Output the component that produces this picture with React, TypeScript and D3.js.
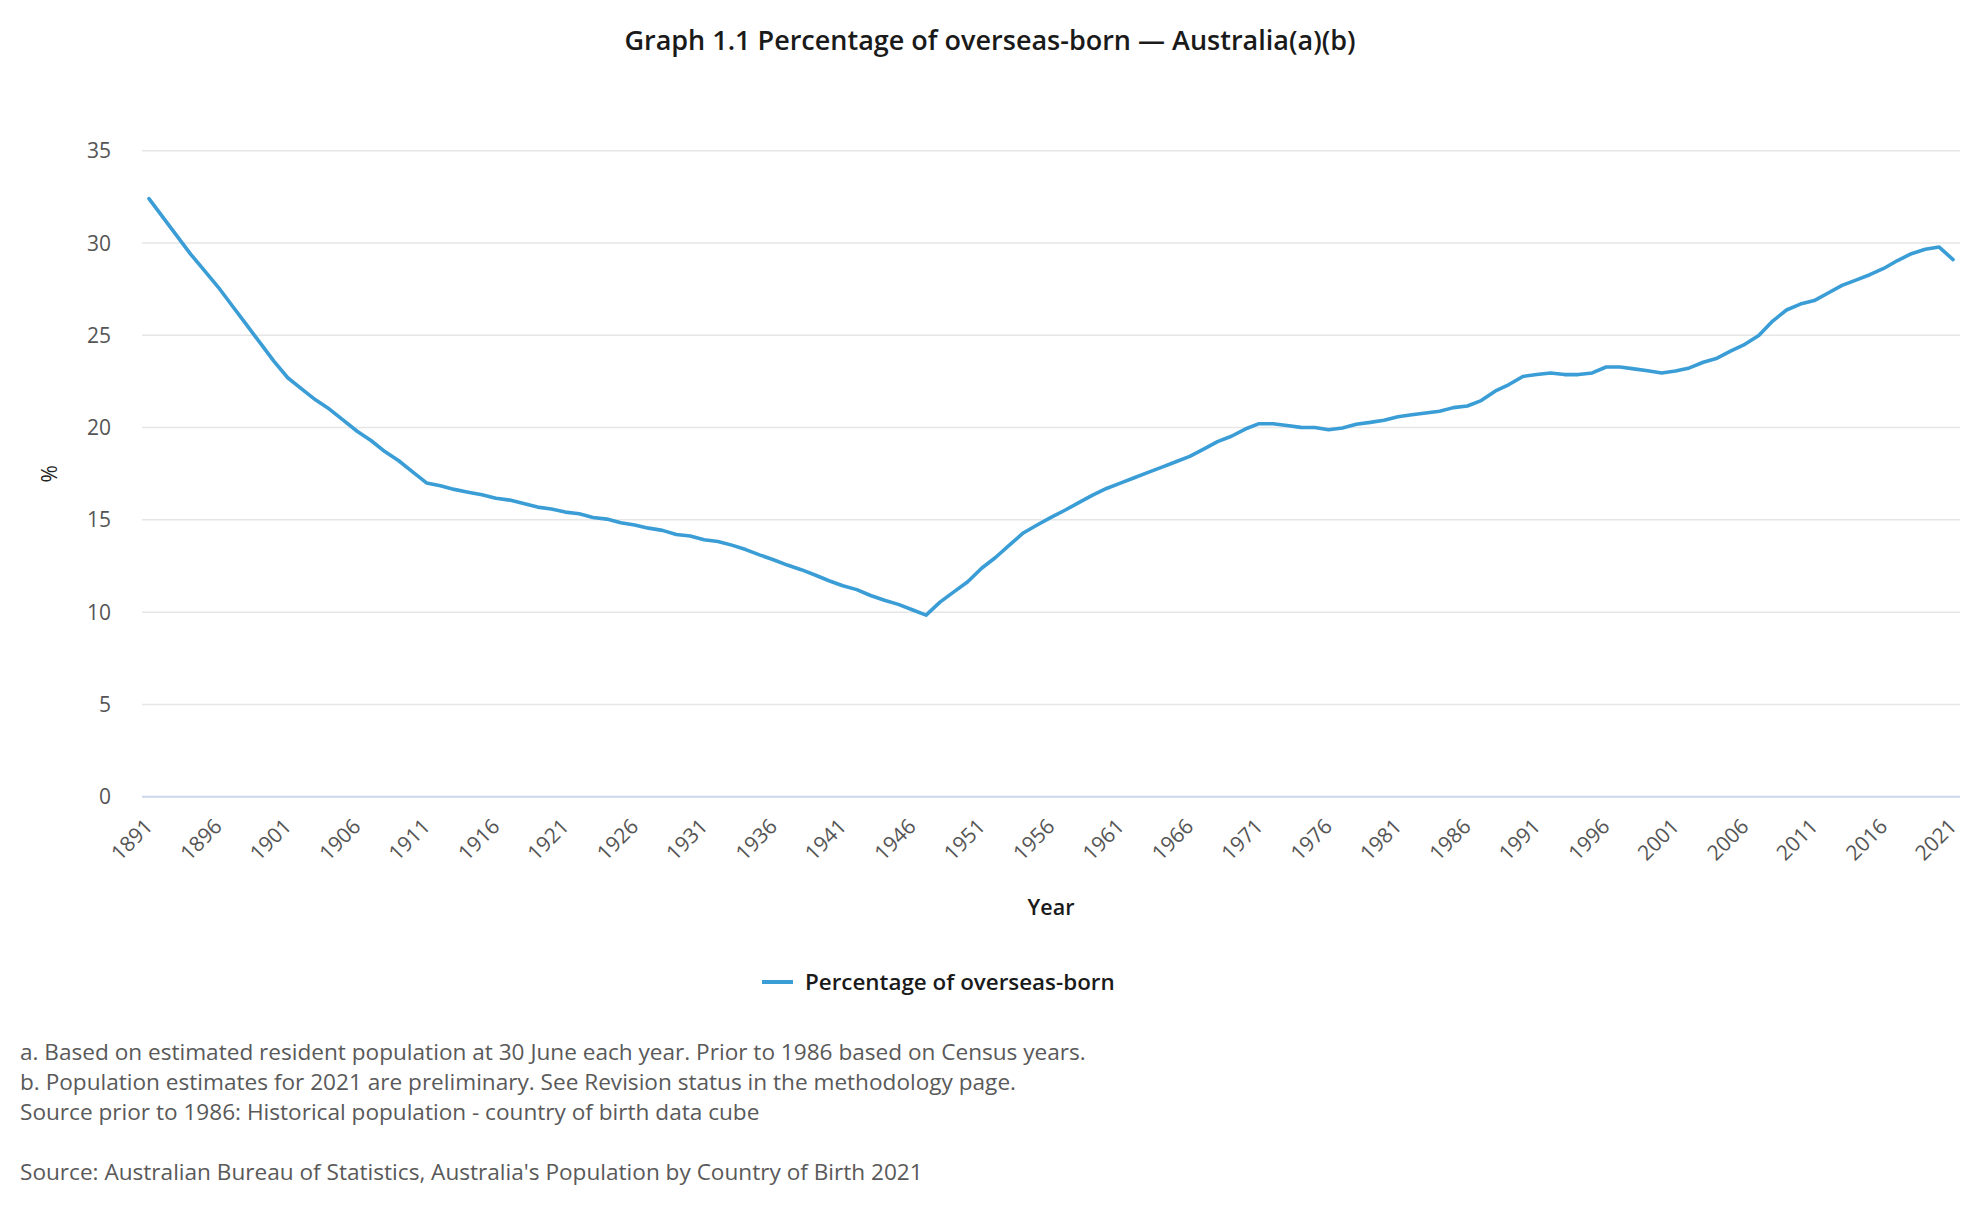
import React, { useRef, useEffect } from "react";
import * as d3 from "d3";

// Percentage of the population born overseas, one value per year 1891–2021
const YEARS: number[] = d3.range(1891, 2022);
const OVERSEAS_PCT: number[] = [
  32.4, 31.4, 30.4, 29.4, 28.5, 27.6, 26.6, 25.6, 24.6, 23.6, // 1891-1900
  22.7, 22.1, 21.5, 21.0, 20.4, 19.8, 19.3, 18.7, 18.2, 17.6, // 1901-1910
  17.0, 16.85, 16.65, 16.5, 16.36, 16.17, 16.07, 15.88, 15.69, 15.59, // 1911-1920
  15.42, 15.33, 15.13, 15.04, 14.84, 14.72, 14.55, 14.43, 14.21, 14.12, // 1921-1930
  13.92, 13.83, 13.63, 13.39, 13.1, 12.84, 12.55, 12.3, 12.01, 11.7, // 1931-1940
  11.43, 11.22, 10.9, 10.64, 10.42, 10.13, 9.84, 10.54, 11.1, 11.65, // 1941-1950
  12.38, 12.96, 13.63, 14.29, 14.72, 15.13, 15.52, 15.93, 16.34, 16.7, // 1951-1960
  16.99, 17.28, 17.57, 17.86, 18.15, 18.44, 18.83, 19.24, 19.53, 19.92, // 1961-1970
  20.21, 20.21, 20.11, 20.01, 20.0, 19.88, 19.98, 20.18, 20.28, 20.4, // 1971-1980
  20.59, 20.69, 20.79, 20.88, 21.08, 21.17, 21.46, 21.97, 22.33, 22.77, // 1981-1990
  22.87, 22.96, 22.87, 22.87, 22.96, 23.28, 23.28, 23.18, 23.08, 22.96, // 1991-2000
  23.06, 23.23, 23.54, 23.76, 24.15, 24.51, 24.99, 25.77, 26.37, 26.69, // 2001-2010
  26.88, 27.29, 27.7, 27.99, 28.28, 28.62, 29.05, 29.42, 29.66, 29.78, // 2011-2020
  29.1, // 2021
];
const Y_TICKS: number[] = [0, 5, 10, 15, 20, 25, 30, 35];
const X_TICK_YEARS: number[] = d3.range(1891, 2022, 5);

const TITLE = "Graph 1.1 Percentage of overseas-born — Australia(a)(b)";
const SERIES_NAME = "Percentage of overseas-born";
const FOOTNOTES: string[] = [
  "a. Based on estimated resident population at 30 June each year. Prior to 1986 based on Census years.",
  "b. Population estimates for 2021 are preliminary. See Revision status in the methodology page.",
  "Source prior to 1986: Historical population - country of birth data cube",
];
const SOURCE = "Source: Australian Bureau of Statistics, Australia's Population by Country of Birth 2021";

const LINE_COLOR = "#3a9dd6";
const FONT = "'Open Sans', 'Noto Sans', sans-serif";

export default function App() {
  const svgRef = useRef<SVGSVGElement>(null);
  const width = 1980;
  const height = 1220;

  useEffect(() => {
    if (!svgRef.current) return;
    const svg = d3.select(svgRef.current);
    svg.selectAll("*").remove();

    const margin = { top: 150.7, right: 20, bottom: 423.3, left: 142 };
    const w = width - margin.left - margin.right;
    const h = height - margin.top - margin.bottom;

    svg
      .append("rect")
      .attr("width", width)
      .attr("height", height)
      .attr("fill", "#fff");

    // title
    svg
      .append("text")
      .attr("x", width / 2)
      .attr("y", 50)
      .attr("text-anchor", "middle")
      .style("font-family", FONT)
      .style("font-size", "27px")
      .style("font-weight", 600)
      .style("fill", "#1a1a1a")
      .text(TITLE);

    const g = svg
      .append("g")
      .attr("transform", `translate(${margin.left},${margin.top})`);

    const xScale = d3
      .scaleBand<number>()
      .domain(YEARS)
      .range([0, w]);
    const xPos = (yr: number) => (xScale(yr) ?? 0) + xScale.bandwidth() / 2;
    const yScale = d3.scaleLinear().domain([0, 35]).range([h, 0]);

    // horizontal grid lines
    g.selectAll("line.grid")
      .data(Y_TICKS.filter((t) => t > 0))
      .join("line")
      .attr("class", "grid")
      .attr("x1", 0)
      .attr("x2", w)
      .attr("y1", (d) => yScale(d))
      .attr("y2", (d) => yScale(d))
      .attr("stroke", "#e6e6e6")
      .attr("stroke-width", 1.5);

    // x axis line
    g.append("line")
      .attr("x1", 0)
      .attr("x2", w)
      .attr("y1", h)
      .attr("y2", h)
      .attr("stroke", "#ccd6eb")
      .attr("stroke-width", 2);

    // y tick labels
    g.selectAll("text.ytick")
      .data(Y_TICKS)
      .join("text")
      .attr("class", "ytick")
      .attr("x", -31)
      .attr("y", (d) => yScale(d))
      .attr("dy", "0.36em")
      .attr("text-anchor", "end")
      .style("font-family", FONT)
      .style("font-size", "21px")
      .style("fill", "#555")
      .text((d) => d);

    // y axis title
    g.append("text")
      .attr("transform", `translate(${50 - margin.left},${h / 2}) rotate(-90)`)
      .attr("text-anchor", "middle")
      .attr("dy", "0.35em")
      .style("font-family", FONT)
      .style("font-size", "21px")
      .style("fill", "#222")
      .text("%");

    // x tick labels, rotated
    g.selectAll("text.xtick")
      .data(X_TICK_YEARS)
      .join("text")
      .attr("class", "xtick")
      .attr(
        "transform",
        (d) => `translate(${xPos(d) + 5},${h + 31}) rotate(-45)`
      )
      .attr("text-anchor", "end")
      .style("font-family", FONT)
      .style("font-size", "21px")
      .style("fill", "#555")
      .text((d) => d);

    // x axis title
    g.append("text")
      .attr("x", w / 2)
      .attr("y", h + 118)
      .attr("text-anchor", "middle")
      .style("font-family", FONT)
      .style("font-size", "21.5px")
      .style("font-weight", 600)
      .style("fill", "#1a1a1a")
      .text("Year");

    // the series line
    const line = d3
      .line<number>()
      .x((_, i) => xPos(YEARS[i]))
      .y((d) => yScale(d));

    g.append("path")
      .datum(OVERSEAS_PCT)
      .attr("d", line)
      .attr("fill", "none")
      .attr("stroke", LINE_COLOR)
      .attr("stroke-width", 3.6)
      .attr("stroke-linejoin", "round")
      .attr("stroke-linecap", "round");

    // legend
    const legend = svg.append("g").attr("transform", "translate(762,982)");
    legend
      .append("line")
      .attr("x1", 0)
      .attr("x2", 31)
      .attr("stroke", LINE_COLOR)
      .attr("stroke-width", 4);
    legend
      .append("text")
      .attr("x", 43)
      .attr("y", 8)
      .style("font-family", FONT)
      .style("font-size", "22.4px")
      .style("font-weight", 600)
      .style("fill", "#1a1a1a")
      .text(SERIES_NAME);

    // footnotes and source
    svg
      .selectAll("text.note")
      .data([...FOOTNOTES, "", SOURCE])
      .join("text")
      .attr("class", "note")
      .attr("x", 20)
      .attr("y", (_, i) => 1060 + i * 30)
      .style("font-family", FONT)
      .style("font-size", "22.6px")
      .style("fill", "#595959")
      .text((d) => d);
  }, []);

  return (
    <svg
      ref={svgRef}
      width={width}
      height={height}
      style={{ position: "absolute", left: 0, top: 0 }}
      viewBox={`0 0 ${width} ${height}`}
    />
  );
}
